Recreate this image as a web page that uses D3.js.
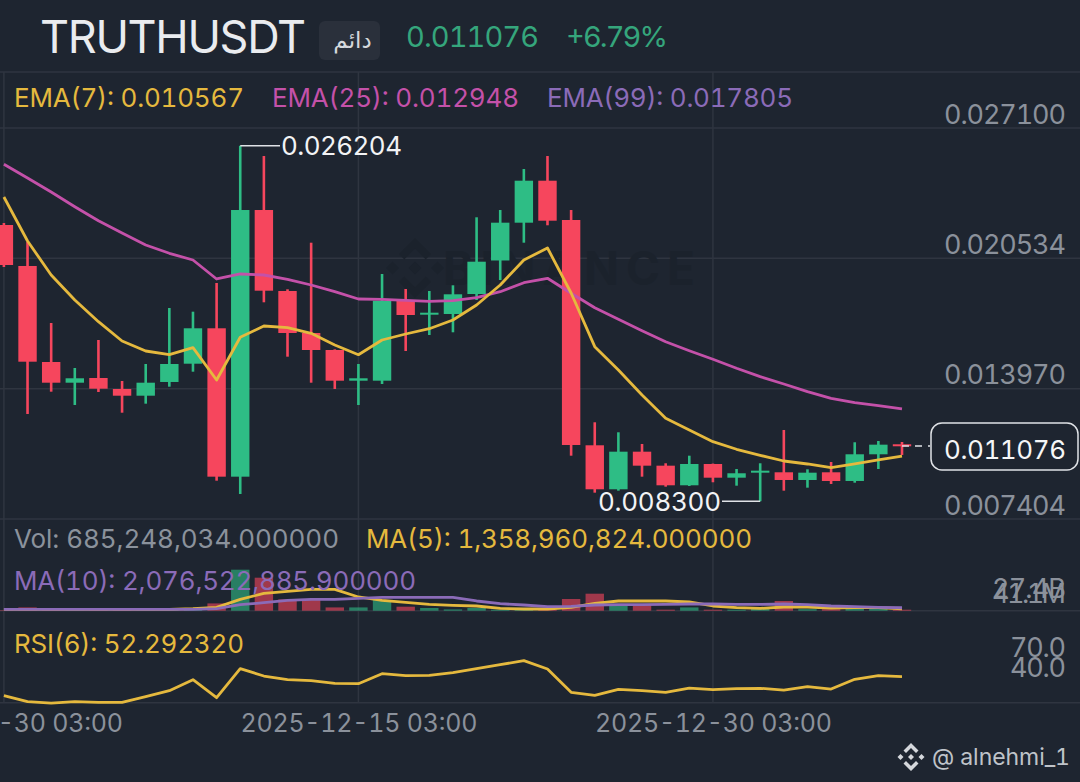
<!DOCTYPE html>
<html>
<head>
<meta charset="utf-8">
<script src="https://cdn.jsdelivr.net/npm/d3@7"></script>
<style>
  html, body { margin: 0; padding: 0; background: #1e2530; }
  svg { display: block; }
  text { font-family: Inter, "Noto Sans", sans-serif; font-feature-settings: "tnum"; }
</style>
</head>
<body>
<svg id="chart" width="1080" height="782"></svg>
<script>
// daily candles, prices in thousandths of a USDT
const opens = [22.214, 20.149, 15.313, 14.270, 14.507, 13.953, 13.615, 14.306, 15.227, 17.011, 9.536, 22.969, 18.889, 16.774, 15.917, 14.371, 14.371, 18.436, 17.716, 17.731, 18.738, 20.426, 22.330, 24.445, 22.466, 11.117, 8.901, 10.795, 10.090, 9.102, 10.175, 9.485, 9.737, 9.757, 9.369, 9.757, 9.319, 10.664, 11.168];
const closes = [20.199, 15.328, 14.270, 14.492, 13.968, 13.615, 14.270, 15.212, 17.011, 9.536, 22.969, 18.904, 16.774, 15.917, 14.371, 14.492, 18.401, 17.680, 17.796, 18.723, 20.365, 22.330, 24.445, 22.430, 11.132, 8.901, 10.795, 10.090, 9.102, 10.175, 9.485, 9.707, 9.838, 9.369, 9.737, 9.319, 10.664, 11.148, 11.076];
const highs = [22.314, 21.357, 17.277, 15.011, 16.421, 14.356, 15.212, 18.033, 17.847, 19.292, 26.204, 25.689, 18.975, 21.322, 15.950, 15.212, 19.746, 18.990, 18.889, 19.176, 22.602, 22.969, 25.034, 25.689, 22.969, 12.276, 11.772, 11.183, 10.211, 10.593, 10.195, 9.923, 10.211, 11.888, 9.908, 10.276, 11.269, 11.334, 11.283];
const lows = [20.098, 12.694, 13.817, 13.147, 13.802, 12.759, 13.213, 14.069, 14.824, 9.334, 8.664, 18.320, 15.580, 14.270, 13.953, 13.147, 14.205, 15.867, 16.673, 16.809, 18.436, 19.443, 21.322, 22.199, 10.593, 8.730, 8.831, 9.536, 9.032, 9.067, 9.254, 9.082, 8.300, 8.831, 8.982, 9.168, 9.233, 9.923, 10.629];
const ema7 = [23.624, 21.408, 19.695, 18.436, 17.343, 16.371, 15.867, 15.681, 16.033, 14.406, 16.557, 17.126, 17.041, 16.759, 16.169, 15.681, 16.421, 16.723, 16.990, 17.429, 18.184, 19.192, 20.451, 21.055, 18.789, 16.084, 14.910, 13.651, 12.477, 11.888, 11.299, 10.916, 10.614, 10.326, 10.175, 9.989, 10.175, 10.377, 10.567];
const ema25 = [25.271, 24.581, 23.876, 23.135, 22.430, 21.811, 21.206, 20.788, 20.451, 19.494, 19.746, 19.695, 19.479, 19.192, 18.854, 18.486, 18.471, 18.421, 18.370, 18.401, 18.552, 18.854, 19.307, 19.529, 18.773, 18.048, 17.464, 16.889, 16.336, 15.882, 15.449, 14.996, 14.573, 14.205, 13.817, 13.485, 13.263, 13.112, 12.948];

// volume panel, billions
const volumes = [0.35, 2.3, 0.7, 0.35, 0.7, 0.7, 0.35, 0.7, 0.7, 5.1, 28.7, 23.1, 7.9, 7.9, 2.3, 2.3, 7.5, 2.8, 1.9, 0.9, 1.9, 0.7, 0.7, 0.7, 8.2, 11.9, 4.0, 4.0, 0.7, 2.3, 0.7, 0.7, 1.4, 6.8, 1.05, 1.05, 1.6, 1.6, 0.685];
const ma5 = [0.9, 0.9, 0.9, 0.9, 0.9, 0.9, 0.9, 0.9, 1.4, 2.3, 7.9, 12.1, 13.5, 14.9, 14.9, 9.6, 7.2, 5.8, 4.4, 3.7, 3.3, 1.6, 1.2, 1.2, 2.3, 5.1, 6.8, 6.8, 6.8, 6.1, 3.3, 2.1, 1.6, 2.6, 2.6, 1.9, 2.1, 2.1, 1.359];
const ma10 = [0.9, 0.9, 0.9, 0.9, 0.9, 0.9, 0.9, 0.9, 0.9, 1.4, 4.2, 5.6, 7.2, 7.9, 7.9, 8.6, 9.3, 9.3, 9.3, 9.3, 6.8, 4.9, 4.0, 2.8, 3.0, 4.0, 4.2, 4.2, 4.4, 4.7, 4.7, 4.4, 4.4, 4.7, 4.2, 3.3, 2.8, 2.3, 2.077];

const rsi6 = [23.8, 14.8, 12.8, 14.8, 13.9, 13.9, 22.3, 31.3, 47.8, 20.8, 64.3, 53.3, 47.8, 46.3, 42.4, 41.8, 56.8, 53.8, 54.4, 58.3, 64.3, 70.3, 76.3, 63.8, 28.9, 24.4, 33.4, 31.3, 28.9, 35.3, 32.8, 34.3, 34.9, 32.3, 37.3, 33.8, 48.4, 53.8, 52.292];

const priceTicks = [27.1, 20.534, 13.97, 7.404];
const rsiTicks = [70, 40];
const dateTicks = [0, 15, 30];
const dateLabels = ["2025-11-30 03:00", "2025-12-15 03:00", "2025-12-30 03:00"];

const RED = "#f6465d", GREEN = "#2ebd85", YELLOW = "#e5b93e", PINK = "#c451a9", PURPLE = "#8b6bb8";
const GRID = "#2f3540", AXIS_TEXT = "#8b919b";

const svg = d3.select("#chart");
const idx = d3.range(opens.length);

const x = d3.scaleLinear().domain([0, 38]).range([3.9, 902]);
const yPrice = d3.scaleLinear().domain([27.1, 7.404]).range([128, 519]);
const yVol = d3.scaleLinear().domain([0, 28.7]).range([610.7, 569.7]);
const yRsi = d3.scaleLinear().domain([52.292, 40]).range([676.7, 684.9]);

svg.append("rect").attr("width", 1080).attr("height", 782).attr("fill", "#1e2530");

// grid
const gridY = [72, ...priceTicks.map(d => yPrice(d)), yVol(0), 702.7];
svg.append("g").selectAll("line").data(gridY).join("line")
    .attr("x1", 0).attr("x2", 1080)
    .attr("y1", d => d).attr("y2", d => d)
    .attr("stroke", GRID).attr("stroke-width", 1.5);
svg.append("g").selectAll("line").data(dateTicks).join("line")
    .attr("x1", d => x(d)).attr("x2", d => x(d))
    .attr("y1", 72).attr("y2", 702.7)
    .attr("stroke", GRID).attr("stroke-width", 1.5);

// watermark
const mark = svg.append("g").attr("fill", "#1b222c");
mark.append("text").attr("x", 443).attr("y", 285).attr("font-size", 46).attr("font-weight", 700)
    .attr("textLength", 252).text("BINANCE");
logo(mark, 415, 268, 30);

// header
label(svg, "TRUTHUSDT", 40, 53, 266, 45, "#eaecef");
svg.append("rect").attr("x", 319).attr("y", 21).attr("width", 61).attr("height", 39).attr("rx", 6).attr("fill", "#2a303b");
svg.append("text").attr("x", 352.5).attr("y", 48).attr("text-anchor", "middle")
    .style("font-family", "'DejaVu Sans'").attr("font-size", 23).attr("fill", "#d5d8dc").text("دائم");
label(svg, "0.011076", 406, 47, 133, 29, "#35a67c");
label(svg, "+6.79%", 566, 47, 102, 29, "#35a67c");

// volume bars
svg.append("g").selectAll("rect").data(idx).join("rect")
    .attr("x", i => x(i) - 9.2).attr("width", 18.4)
    .attr("y", i => yVol(volumes[i]))
    .attr("height", i => yVol(0) - yVol(volumes[i]))
    .attr("fill", i => closes[i] >= opens[i] ? GREEN : RED)
    .attr("opacity", 0.6);

// candles
const candle = svg.append("g").selectAll("g").data(idx).join("g")
    .attr("fill", i => closes[i] >= opens[i] ? GREEN : RED);
candle.append("rect")
    .attr("x", i => x(i) - 1.3).attr("width", 2.6)
    .attr("y", i => yPrice(highs[i]))
    .attr("height", i => yPrice(lows[i]) - yPrice(highs[i]));
candle.append("rect")
    .attr("x", i => x(i) - 9.2).attr("width", 18.4)
    .attr("y", i => yPrice(Math.max(opens[i], closes[i])))
    .attr("height", i => Math.max(2, Math.abs(yPrice(opens[i]) - yPrice(closes[i]))));

// indicator lines
function drawLine(values, y, color) {
    const line = d3.line().x((d, i) => x(i)).y(d => y(d));
    svg.append("path").attr("d", line(values))
        .attr("fill", "none").attr("stroke", color)
        .attr("stroke-width", 2.8).attr("stroke-linejoin", "round");
}
drawLine(ema25, yPrice, PINK);
drawLine(ema7, yPrice, YELLOW);
drawLine(ma5, yVol, YELLOW);
drawLine(ma10, yVol, PURPLE);
drawLine(rsi6, yRsi, YELLOW);

// high / low callouts
const callout = svg.append("g").attr("stroke", "#dfe2e6").attr("stroke-width", 1.5);
callout.append("line").attr("x1", x(10)).attr("x2", 280).attr("y1", yPrice(26.204)).attr("y2", yPrice(26.204));
callout.append("line").attr("x1", 722).attr("x2", x(32)).attr("y1", yPrice(8.3)).attr("y2", yPrice(8.3));
label(svg, "0.026204", 281, yPrice(26.204) + 9.5, 121, 26, "#f2f3f5");
label(svg, "0.008300", 598, yPrice(8.3) + 9.5, 123, 26, "#f2f3f5");

// legends
label(svg, "EMA(7): 0.010567", 14, 107, 230, 26, YELLOW);
label(svg, "EMA(25): 0.012948", 272, 107, 247, 26, PINK);
label(svg, "EMA(99): 0.017805", 547, 107, 246, 26, PURPLE);
label(svg, "Vol: 685,248,034.000000", 14, 548, 325, 26, "#8b929c");
label(svg, "MA(5): 1,358,960,824.000000", 366, 548, 386, 26, YELLOW);
label(svg, "MA(10): 2,076,522,885.900000", 14, 590, 402, 26, PURPLE);
label(svg, "RSI(6): 52.292320", 14, 653, 230, 26, YELLOW);

// axes
const priceAxis = d3.axisRight(yPrice).tickValues(priceTicks).tickSize(0)
    .tickFormat(d => (d / 1000).toFixed(6));
const gPrice = svg.append("g").attr("transform", "translate(1066,0)").call(priceAxis);
styleAxis(gPrice).selectAll("text").attr("x", 0).attr("dy", null).attr("y", -5)
    .attr("text-anchor", "end").attr("textLength", 122);

const rsiAxis = d3.axisRight(yRsi).tickValues(rsiTicks).tickSize(0).tickFormat(d3.format(".1f"));
const gRsi = svg.append("g").attr("transform", "translate(1066,0)").call(rsiAxis);
styleAxis(gRsi).selectAll("text").attr("x", 0).attr("dy", null).attr("y", -8)
    .attr("text-anchor", "end").attr("textLength", 56);

// these two labels collide in the picture
svg.append("g").selectAll("text").data([["27.4B", 598], ["41.1M", 603]]).join("text")
    .attr("x", 1066).attr("y", d => d[1]).attr("text-anchor", "end")
    .attr("textLength", 74).attr("font-size", 27).attr("fill", AXIS_TEXT).text(d => d[0]);

const dateAxis = d3.axisBottom(x).tickValues(dateTicks).tickSize(0)
    .tickFormat((d, i) => dateLabels[i]);
const gDate = svg.append("g").attr("transform", "translate(0,703)").call(dateAxis);
styleAxis(gDate).selectAll("text").attr("y", 29).attr("dy", null).attr("textLength", 237);
gDate.selectAll("text").attr("font-size", 25);

// last price tag
svg.append("line").attr("x1", x(38)).attr("x2", 930)
    .attr("y1", yPrice(11.076)).attr("y2", yPrice(11.076))
    .attr("stroke", "#dfe2e6").attr("stroke-width", 1.5).attr("stroke-dasharray", "7 6");
svg.append("rect").attr("x", 931).attr("y", 423).attr("width", 147).attr("height", 47).attr("rx", 11)
    .attr("fill", "#1e2530").attr("stroke", "#dfe2e6").attr("stroke-width", 1.5);
label(svg, "0.011076", 944, 459, 122, 26, "#f5f6f7");

// signature
logo(svg.append("g").attr("fill", "#d5d8dc"), 911, 757, 14);
label(svg, "@ alnehmi_1", 932, 765, 138, 23, "#bfc3c9");

function label(parent, str, tx, ty, w, size, color) {
    return parent.append("text").attr("x", tx).attr("y", ty).attr("textLength", w)
        .attr("font-size", size).attr("fill", color).text(str);
}

function styleAxis(g) {
    g.select(".domain").remove();
    g.selectAll("text").attr("font-size", 27).attr("fill", AXIS_TEXT)
        .style("font-family", "Inter, 'Noto Sans', sans-serif");
    return g;
}

function logo(g, cx, cy, r) {
    const s = r / 14;
    const diamond = (dx, dy, q) => `M${cx + dx * s},${cy + (dy - q) * s}L${cx + (dx + q) * s},${cy + dy * s}L${cx + dx * s},${cy + (dy + q) * s}L${cx + (dx - q) * s},${cy + dy * s}Z`;
    g.append("path").attr("d", diamond(0, 0, 3));
    g.append("path").attr("d", diamond(-10.5, 0, 3));
    g.append("path").attr("d", diamond(10.5, 0, 3));
    const chevron = dir => `M${cx},${cy + dir * 14 * s}L${cx + 7.5 * s},${cy + dir * 6.5 * s}L${cx + 5 * s},${cy + dir * 4 * s}L${cx},${cy + dir * 9 * s}L${cx - 5 * s},${cy + dir * 4 * s}L${cx - 7.5 * s},${cy + dir * 6.5 * s}Z`;
    g.append("path").attr("d", chevron(-1));
    g.append("path").attr("d", chevron(1));
}
</script>
</body>
</html>
